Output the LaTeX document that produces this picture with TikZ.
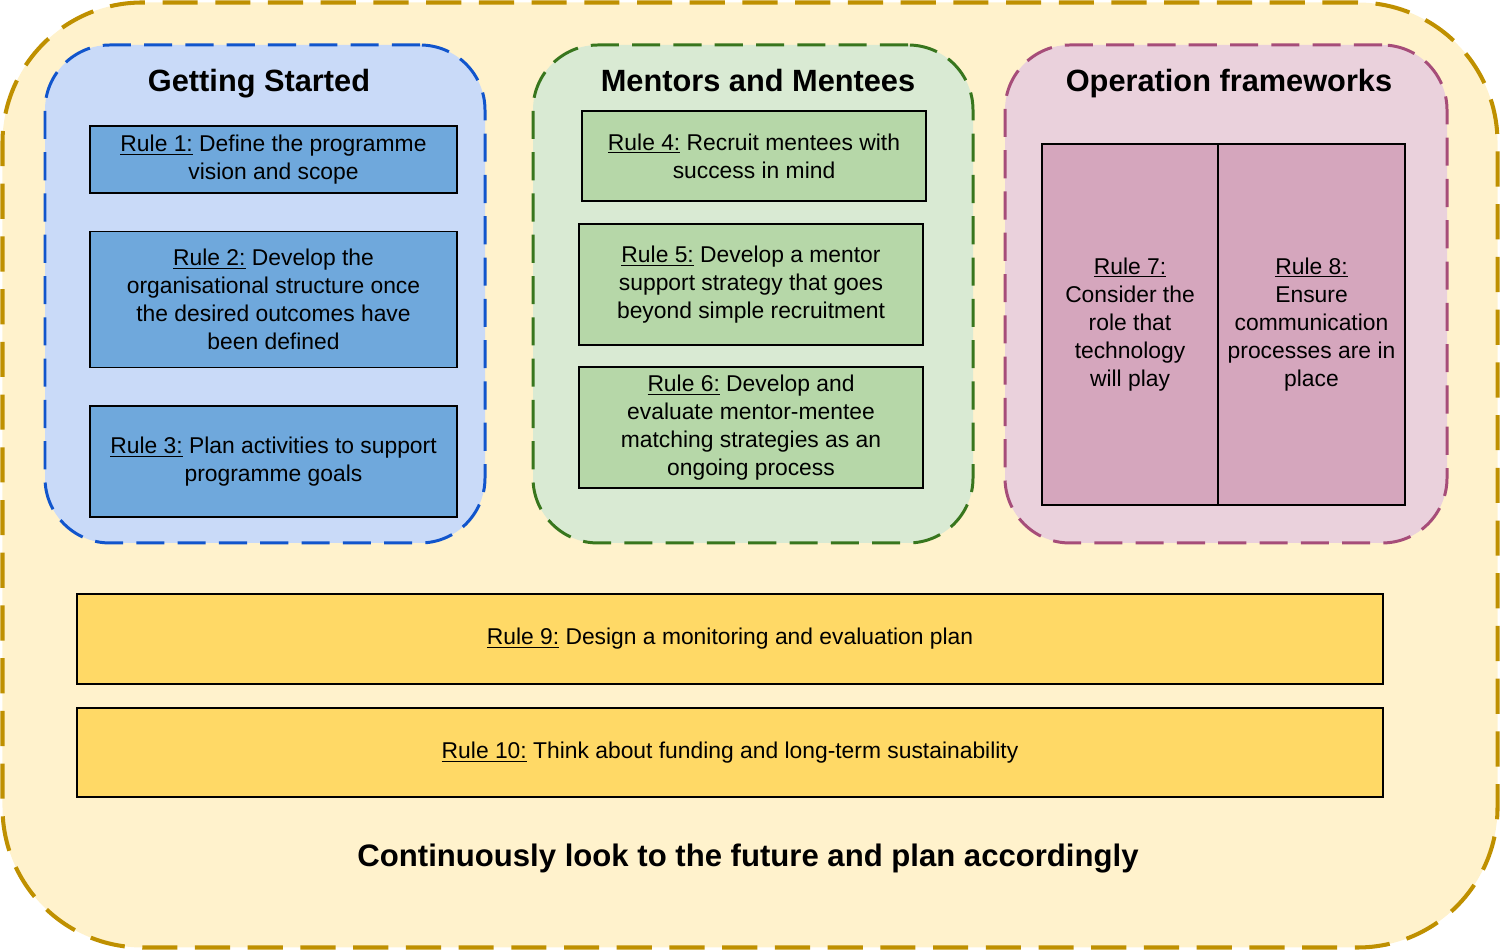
\documentclass[tikz,border=0pt]{standalone}
\usepackage{fontspec}
\setmainfont{Liberation Sans}
\usepackage{tikz}
\usetikzlibrary{positioning}

\definecolor{outerfill}{HTML}{FFF2CC}
\definecolor{outerline}{HTML}{BF9000}
\definecolor{gspanel}{HTML}{C9DAF8}
\definecolor{gsline}{HTML}{1155CC}
\definecolor{gsfill}{HTML}{6FA8DC}
\definecolor{mmpanel}{HTML}{D9EAD3}
\definecolor{mmline}{HTML}{38761D}
\definecolor{mmfill}{HTML}{B6D7A8}
\definecolor{oppanel}{HTML}{EAD1DC}
\definecolor{opline}{HTML}{A64D79}
\definecolor{opfill}{HTML}{D5A6BD}
\definecolor{plfill}{HTML}{FFD966}

\newcommand{\rulelab}[1]{\underline{Rule #1:}}

\begin{document}
\begin{tikzpicture}[
  every node/.style={font=\fontsize{13}{16}\selectfont},
  frame/.style ={draw=outerline, fill=outerfill, line width=2.3pt,
                 dash pattern=on 20pt off 10pt, rounded corners=2.8cm,
                 minimum width=29.9cm, minimum height=18.9cm},
  panel/.style ={line width=1.7pt, dash pattern=on 16pt off 7.5pt,
                 rounded corners=1.3cm,
                 minimum width=8.8cm, minimum height=9.96cm},
  hdr/.style   ={font=\fontsize{17.5}{21}\selectfont\bfseries, inner sep=0pt},
  rbox/.style  ={draw, line width=1pt, outer sep=0pt, inner sep=2pt,
                 align=center},
  gsbox/.style ={rbox, fill=gsfill, minimum width=7.34cm},
  mmbox/.style ={rbox, fill=mmfill, minimum width=6.88cm},
  opbox/.style ={rbox, fill=opfill, minimum height=7.22cm},
  plbox/.style ={rbox, fill=plfill, minimum width=26.12cm},
  node distance=0.77cm
]
\useasboundingbox (0,0) rectangle (30,19);

%% --- Outer frame ---------------------------------------------
\node[frame] (outer) at (15, 9.5) {};

%% --- Panels --------------------------------------------------
\node[panel, draw=gsline, fill=gspanel] (gs) at (5.3, 13.12) {};
\node[panel, draw=mmline, fill=mmpanel] (mm) at (15.06, 13.12) {};
\node[panel, draw=opline, fill=oppanel, minimum width=8.84cm] (op) at (24.52, 13.12) {};

\node[hdr, below=0.5cm of gs.north, xshift=-0.12cm] (hdr_gs) {Getting Started};
\node[hdr, below=0.5cm of mm.north, xshift=0.1cm]   (hdr_mm) {Mentors and Mentees};
\node[hdr, below=0.5cm of op.north, xshift=0.06cm]  (hdr_op) {Operation frameworks};

%% --- Getting started column ----------------------------------
\node[gsbox, minimum height=1.34cm] (r1) at (5.47, 15.81)
     {\rulelab{1} Define the programme\\ vision and scope};
\node[gsbox, minimum height=2.72cm, below=of r1] (r2)
     {\rulelab{2} Develop the\\ organisational structure once\\
      the desired outcomes have\\ been defined};
\node[gsbox, minimum height=2.22cm, below=of r2] (r3)
     {\rulelab{3} Plan activities to support\\ programme goals};

%% --- Mentors column ------------------------------------------
\node[mmbox, minimum height=1.8cm] (r4) at (15.08, 15.88)
     {\rulelab{4} Recruit mentees with\\ success in mind};
\node[mmbox, minimum height=2.42cm, below=0.46cm of r4, xshift=-0.06cm] (r5)
     {\rulelab{5} Develop a mentor\\ support strategy that goes\\
      beyond simple recruitment};
\node[mmbox, minimum height=2.42cm, below=0.44cm of r5] (r6)
     {\rulelab{6} Develop and\\ evaluate mentor-mentee\\
      matching strategies as an\\ ongoing process};

%% --- Operation column ----------------------------------------
\node[opbox, minimum width=3.52cm] (r7) at (22.6, 12.51)
     {\rulelab{7}\\ Consider the\\ role that\\ technology\\ will play};
\node[opbox, minimum width=3.74cm, right=0cm of r7] (r8)
     {\rulelab{8}\\ Ensure\\ communication\\ processes are in\\ place};

%% --- Plan rows -----------------------------------------------
\node[plbox, minimum height=1.8cm] (r9) at (14.6, 6.22)
     {\rulelab{9} Design a monitoring and evaluation plan};
\node[plbox, minimum height=1.78cm, below=0.48cm of r9] (r10)
     {\rulelab{10} Think about funding and long-term sustainability};

\node[hdr, font=\fontsize{17.7}{21}\selectfont\bfseries] (future) at (14.96, 1.82)
     {Continuously look to the future and plan accordingly};

\end{tikzpicture}
\end{document}
